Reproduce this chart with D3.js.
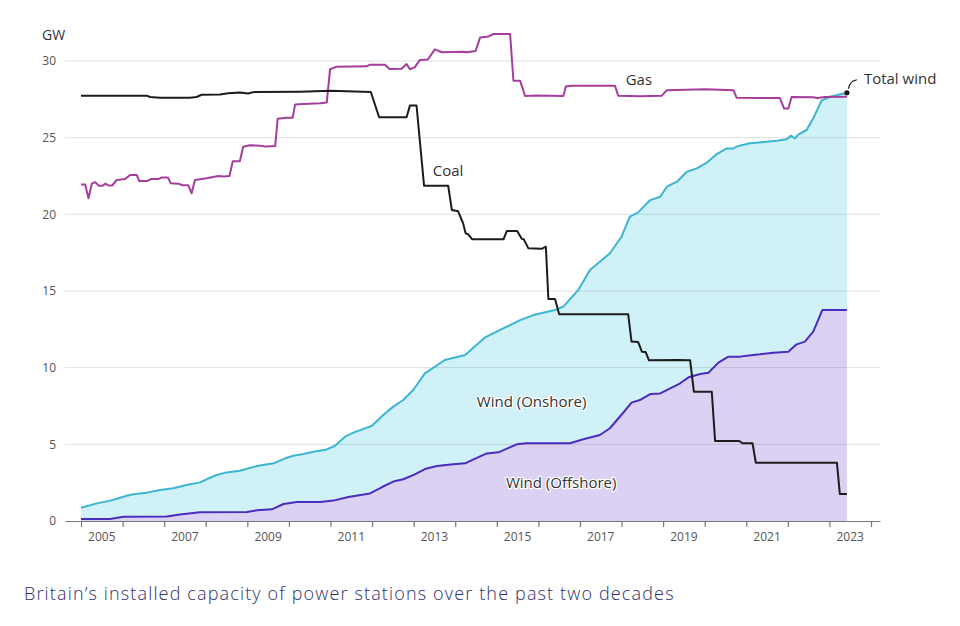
<!DOCTYPE html>
<html>
<head>
<meta charset="utf-8">
<script src="https://cdn.jsdelivr.net/npm/d3@7"></script>
<style>
  body { margin: 0; background: #fff; }
  svg { display: block; font-family: "Open Sans", Lato, sans-serif; }
</style>
</head>
<body>
<svg id="chart" width="960" height="626"></svg>
<script>
// Installed capacity (GW) as [decimal year, value].
const gasSeries = [
  [2005.00, 21.95], [2005.10, 21.95], [2005.18, 21.05], [2005.26, 22.0], [2005.34, 22.1],
  [2005.43, 21.87], [2005.52, 21.87], [2005.59, 22.0], [2005.66, 21.88], [2005.75, 21.88],
  [2005.86, 22.24], [2006.06, 22.3], [2006.18, 22.57], [2006.34, 22.57], [2006.40, 22.17],
  [2006.58, 22.17], [2006.68, 22.3], [2006.86, 22.3], [2006.94, 22.4], [2007.09, 22.4],
  [2007.16, 22.02], [2007.34, 22.0], [2007.44, 21.9], [2007.58, 21.9], [2007.66, 21.37],
  [2007.74, 22.24], [2007.90, 22.3], [2008.02, 22.35], [2008.30, 22.5], [2008.44, 22.47],
  [2008.57, 22.5], [2008.65, 23.46], [2008.82, 23.46], [2008.90, 24.41], [2009.06, 24.5],
  [2009.30, 24.47], [2009.43, 24.43], [2009.67, 24.45], [2009.73, 26.24], [2009.95, 26.3],
  [2010.09, 26.3], [2010.15, 27.17], [2010.35, 27.2], [2010.75, 27.25], [2010.91, 27.3],
  [2010.99, 29.46], [2011.15, 29.63], [2011.87, 29.65], [2011.95, 29.76], [2012.31, 29.76],
  [2012.42, 29.48], [2012.71, 29.5], [2012.83, 29.8], [2012.91, 29.46], [2013.03, 29.6],
  [2013.15, 30.07], [2013.34, 30.1], [2013.51, 30.76], [2013.68, 30.57], [2014.19, 30.6],
  [2014.28, 30.57], [2014.49, 30.65], [2014.60, 31.54], [2014.80, 31.6], [2014.92, 31.76],
  [2015.32, 31.76], [2015.40, 28.72], [2015.56, 28.72], [2015.68, 27.72], [2015.96, 27.75],
  [2016.60, 27.72], [2016.66, 28.33], [2016.80, 28.39], [2017.84, 28.39], [2017.92, 27.74],
  [2018.44, 27.7], [2018.97, 27.74], [2019.09, 28.1], [2020.01, 28.15], [2020.69, 28.1],
  [2020.77, 27.6], [2021.81, 27.58], [2021.91, 26.9], [2022.01, 26.9], [2022.09, 27.65],
  [2022.61, 27.63], [2022.71, 27.58], [2022.89, 27.65], [2023.42, 27.67]
];

const coalSeries = [
  [2005.00, 27.74], [2006.58, 27.74], [2006.66, 27.65], [2006.90, 27.6], [2007.62, 27.6],
  [2007.78, 27.65], [2007.90, 27.8], [2008.34, 27.82], [2008.54, 27.9], [2008.82, 27.95],
  [2009.02, 27.88], [2009.14, 27.97], [2010.27, 28.0], [2010.99, 28.06], [2011.97, 27.98],
  [2012.17, 26.33], [2012.83, 26.33], [2012.91, 27.09], [2013.07, 27.09], [2013.25, 21.87],
  [2013.83, 21.87], [2013.92, 20.28], [2014.07, 20.2], [2014.19, 19.41], [2014.25, 18.76],
  [2014.31, 18.7], [2014.41, 18.37], [2015.16, 18.37], [2015.24, 18.91], [2015.49, 18.91],
  [2015.60, 18.4], [2015.65, 18.37], [2015.76, 17.78], [2016.08, 17.75], [2016.18, 17.89],
  [2016.24, 14.48], [2016.40, 14.48], [2016.50, 13.48], [2018.16, 13.48], [2018.24, 11.7],
  [2018.40, 11.67], [2018.49, 11.04], [2018.58, 11.02], [2018.66, 10.48], [2019.33, 10.5],
  [2019.65, 10.48], [2019.74, 8.43], [2020.17, 8.43], [2020.25, 5.22], [2020.83, 5.22],
  [2020.91, 5.07], [2021.15, 5.07], [2021.23, 3.8], [2023.18, 3.8], [2023.25, 1.76],
  [2023.42, 1.76]
];

const totalWindSeries = [
  [2005.00, 0.87], [2005.38, 1.15], [2005.70, 1.33], [2005.86, 1.45], [2006.10, 1.65],
  [2006.26, 1.74], [2006.58, 1.85], [2006.90, 2.02], [2007.22, 2.13], [2007.54, 2.35],
  [2007.86, 2.52], [2008.02, 2.72], [2008.26, 3.0], [2008.50, 3.17], [2008.82, 3.28],
  [2009.23, 3.59], [2009.63, 3.76], [2009.95, 4.13], [2010.11, 4.26], [2010.35, 4.37],
  [2010.59, 4.52], [2010.91, 4.67], [2011.11, 4.91], [2011.35, 5.5], [2011.55, 5.76],
  [2011.71, 5.93], [2011.99, 6.2], [2012.27, 6.91], [2012.51, 7.46], [2012.75, 7.89],
  [2012.99, 8.54], [2013.27, 9.63], [2013.75, 10.5], [2014.24, 10.83], [2014.72, 11.98],
  [2015.08, 12.46], [2015.56, 13.1], [2015.88, 13.43], [2016.40, 13.76], [2016.60, 13.98],
  [2016.96, 15.07], [2017.24, 16.37], [2017.72, 17.46], [2018.00, 18.54], [2018.20, 19.85],
  [2018.40, 20.13], [2018.69, 20.93], [2018.93, 21.15], [2019.09, 21.8], [2019.33, 22.13],
  [2019.57, 22.78], [2019.81, 23.0], [2020.05, 23.37], [2020.29, 23.93], [2020.53, 24.3],
  [2020.69, 24.3], [2020.81, 24.46], [2021.09, 24.63], [2021.37, 24.7], [2021.73, 24.8],
  [2021.97, 24.89], [2022.07, 25.13], [2022.17, 24.96], [2022.25, 25.2], [2022.45, 25.5],
  [2022.61, 26.26], [2022.81, 27.41], [2023.01, 27.67], [2023.42, 27.93]
];

const offshoreSeries = [
  [2005.00, 0.13], [2005.70, 0.13], [2006.02, 0.28], [2007.06, 0.3], [2007.38, 0.43],
  [2007.86, 0.57], [2008.99, 0.58], [2009.23, 0.7], [2009.59, 0.76], [2009.87, 1.11],
  [2010.19, 1.24], [2010.75, 1.24], [2011.07, 1.33], [2011.43, 1.57], [2011.95, 1.8],
  [2012.23, 2.2], [2012.51, 2.57], [2012.75, 2.72], [2013.03, 3.04], [2013.27, 3.39],
  [2013.56, 3.59], [2013.95, 3.7], [2014.24, 3.76], [2014.44, 4.02], [2014.76, 4.41],
  [2015.04, 4.48], [2015.48, 5.0], [2015.72, 5.07], [2016.76, 5.07], [2017.08, 5.33],
  [2017.48, 5.61], [2017.72, 6.05], [2018.04, 7.06], [2018.24, 7.72], [2018.44, 7.89],
  [2018.69, 8.28], [2018.93, 8.32], [2019.17, 8.65], [2019.41, 8.98], [2019.61, 9.37],
  [2019.89, 9.59], [2020.09, 9.67], [2020.33, 10.33], [2020.57, 10.72], [2020.85, 10.72],
  [2021.01, 10.78], [2021.33, 10.87], [2021.65, 10.98], [2022.01, 11.04], [2022.21, 11.52],
  [2022.41, 11.7], [2022.61, 12.35], [2022.83, 13.76], [2023.42, 13.76]
];

// Axis ticks: a tick at every year boundary, a label for odd years.
const yearTicks = d3.range(2005, 2025);
const yearLabels = [2005, 2007, 2009, 2011, 2013, 2015, 2017, 2019, 2021, 2023];
const gwTicks = [0, 5, 10, 15, 20, 25, 30];

// Series labels placed on the chart: [text, decimal year, GW].
const seriesLabels = [
  ["Gas", 2018.10, 28.44],
  ["Coal", 2013.46, 22.53],
  ["Wind (Onshore)", 2014.52, 7.43],
  ["Wind (Offshore)", 2015.22, 2.18]
];

const svg = d3.select("#chart");

// Scales
const x = d3.scaleLinear().domain([2004.615, 2024.216]).range([65, 880]);
const y = d3.scaleLinear().domain([0, 30]).range([521, 61]);

const line = d3.line().x(d => x(d[0])).y(d => y(d[1]));
const area = d3.area().x(d => x(d[0])).y0(y(0)).y1(d => y(d[1]));

// Filled areas for wind
svg.append("path").datum(totalWindSeries)
  .attr("d", area).attr("fill", "#d1f1f8");
svg.append("path").datum(offshoreSeries)
  .attr("d", area).attr("fill", "#dad1f3");

// Horizontal gridlines
svg.append("g").selectAll("line")
  .data(gwTicks.filter(d => d > 0))
  .join("line")
  .attr("x1", x.range()[0]).attr("x2", x.range()[1])
  .attr("y1", d => y(d)).attr("y2", d => y(d))
  .attr("stroke", "rgba(0,0,0,0.12)")
  .attr("stroke-width", 1);

// Y tick labels
svg.append("g").selectAll("text")
  .data(gwTicks)
  .join("text")
  .attr("x", 56).attr("y", d => y(d))
  .attr("dy", "0.35em")
  .attr("text-anchor", "end")
  .attr("font-size", 12)
  .attr("fill", "#555")
  .text(d => d);

svg.append("text")
  .attr("x", 42).attr("y", 40)
  .attr("font-size", 14)
  .attr("fill", "#333")
  .text("GW");

// X axis: ticks at year boundaries
const xAxis = svg.append("g")
  .attr("transform", `translate(0,${y(0)})`)
  .call(d3.axisBottom(x).tickValues(yearTicks).tickFormat("").tickSize(6).tickSizeOuter(0));
xAxis.select(".domain").attr("stroke", "#777").attr("stroke-width", 1.2);
xAxis.selectAll(".tick line").attr("stroke", "#777").attr("stroke-width", 1.2);

// X labels centred within their year
svg.append("g").selectAll("text")
  .data(yearLabels)
  .join("text")
  .attr("x", d => x(d + 0.5)).attr("y", 541)
  .attr("text-anchor", "middle")
  .attr("font-size", 12)
  .attr("fill", "#555")
  .text(d => d);

// Lines
svg.append("path").datum(totalWindSeries)
  .attr("d", line).attr("fill", "none")
  .attr("stroke", "#3cb5d4").attr("stroke-width", 2).attr("stroke-linejoin", "round");
svg.append("path").datum(offshoreSeries)
  .attr("d", line).attr("fill", "none")
  .attr("stroke", "#4a2dbd").attr("stroke-width", 2).attr("stroke-linejoin", "round");
svg.append("path").datum(gasSeries)
  .attr("d", line).attr("fill", "none")
  .attr("stroke", "#a63d9c").attr("stroke-width", 2).attr("stroke-linejoin", "round");
svg.append("path").datum(coalSeries)
  .attr("d", line).attr("fill", "none")
  .attr("stroke", "#1c1c1c").attr("stroke-width", 2).attr("stroke-linejoin", "round");

// Series labels
svg.append("g").selectAll("text")
  .data(seriesLabels)
  .join("text")
  .attr("x", d => x(d[1])).attr("y", d => y(d[2]))
  .attr("font-size", 15)
  .attr("fill", "#333")
  .attr("stroke", "#fff").attr("stroke-width", 2.5)
  .attr("paint-order", "stroke")
  .attr("stroke-linejoin", "round")
  .text(d => d[0]);

// Total wind annotation at the end of the wind line
const lastWind = totalWindSeries[totalWindSeries.length - 1];
const ax = x(lastWind[0]), ay = y(lastWind[1]);
svg.append("circle").attr("cx", ax).attr("cy", ay).attr("r", 2.6).attr("fill", "#111");
svg.append("path")
  .attr("d", `M${ax + 1.5},${ay - 4} Q${ax + 3},${ay - 12} ${ax + 10},${ay - 13}`)
  .attr("fill", "none").attr("stroke", "#111").attr("stroke-width", 1.2);
svg.append("text")
  .attr("x", ax + 17).attr("y", ay - 9)
  .attr("font-size", 15)
  .attr("fill", "#333")
  .text("Total wind");

// Caption
svg.append("text")
  .attr("x", 24).attr("y", 600)
  .attr("font-size", 18)
  .attr("font-weight", 300)
  .attr("letter-spacing", 1.15)
  .attr("fill", "#2d2f6b")
  .text("Britain\u2019s installed capacity of power stations over the past two decades");
</script>
</body>
</html>
